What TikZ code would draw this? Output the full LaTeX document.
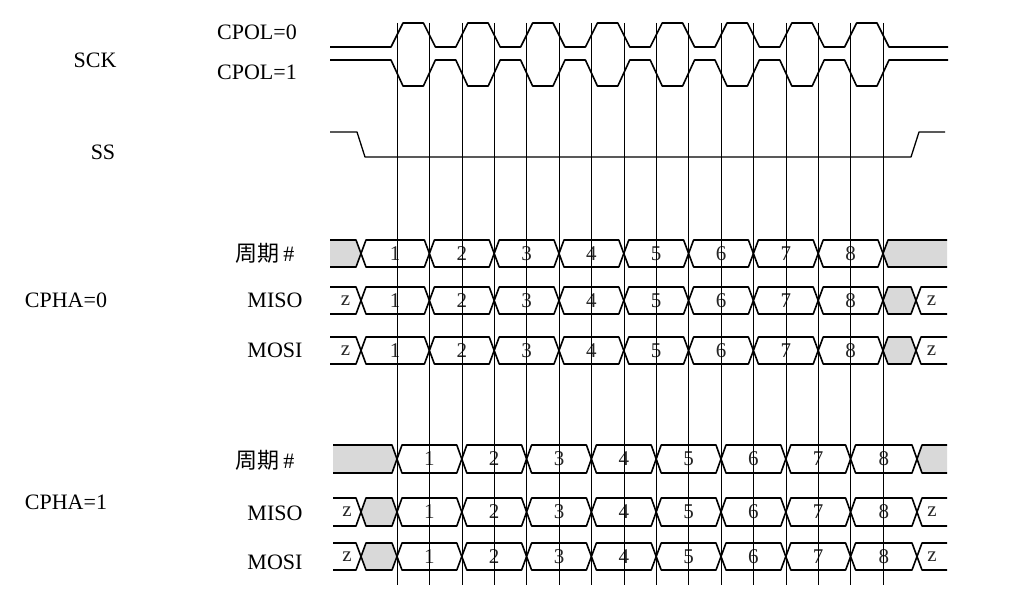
\documentclass[tikz,border=0pt]{standalone}
\usepackage{fontspec}
\setmainfont{Liberation Serif}
\newfontfamily\cjk{Noto Sans CJK SC}
\newcommand\busC[6]{%
 \fill[#5] (#1,{(#3+#4)/2}) -- (#1+5,#3) -- (#2-5,#3) -- (#2,{(#3+#4)/2}) -- (#2-5,#4) -- (#1+5,#4) -- cycle;
 \draw[sig] (#1,{(#3+#4)/2}) -- (#1+5,#3) -- (#2-5,#3) -- (#2,{(#3+#4)/2}) -- (#2-5,#4) -- (#1+5,#4) -- cycle;
 \node[lbl] at ({(#1+#2)/2},{(#3+#4)/2}) {#6};}
\newcommand\busL[6]{%
 \fill[#5] (#1,#3) -- (#2-5,#3) -- (#2,{(#3+#4)/2}) -- (#2-5,#4) -- (#1,#4) -- cycle;
 \draw[sig] (#1,#3) -- (#2-5,#3) -- (#2,{(#3+#4)/2}) -- (#2-5,#4) -- (#1,#4);
 \node[lbl] at ({(#1+#2)/2},{(#3+#4)/2}) {#6};}
\newcommand\busR[6]{%
 \fill[#5] (#2,#3) -- (#1+5,#3) -- (#1,{(#3+#4)/2}) -- (#1+5,#4) -- (#2,#4) -- cycle;
 \draw[sig] (#2,#3) -- (#1+5,#3) -- (#1,{(#3+#4)/2}) -- (#1+5,#4) -- (#2,#4);
 \node[lbl] at ({(#1+#2)/2},{(#3+#4)/2}) {#6};}
\begin{document}
\begin{tikzpicture}[x=1pt,y=-1pt,
 sig/.style={line width=1.6pt,line join=round},
 lbl/.style={font=\fontsize{21}{23}\selectfont,text=black!85},
 txt/.style={font=\fontsize{22}{24}\selectfont},
 grid/.style={line width=0.6pt}]
\useasboundingbox (0,0) rectangle (1027,604);
% labels
\node[txt] at (95,60) {SCK};
\node[txt] at (103,152) {SS};
\node[txt] at (257,32) {CPOL=0};
\node[txt] at (257,72) {CPOL=1};
\node[txt] at (66,300) {CPHA=0};
\node[txt] at (66,502) {CPHA=1};
\node[txt] at (265,253) {{\cjk 周期}\,\#};
\node[txt] at (275,300) {MISO};
\node[txt] at (275,350) {MOSI};
\node[txt] at (265,460) {{\cjk 周期}\,\#};
\node[txt] at (275,513) {MISO};
\node[txt] at (275,562) {MOSI};
% SCK
\draw[sig] (330,47) foreach \k in {0,...,7}{ -- ({397+64.8*\k-6},47) -- ({397+64.8*\k+6},23) -- ({429.4+64.8*\k-6},23) -- ({429.4+64.8*\k+6},47)} -- (948,47);
\draw[sig] (330,60) foreach \k in {0,...,7}{ -- ({397+64.8*\k-6},60) -- ({397+64.8*\k+6},86) -- ({429.4+64.8*\k-6},86) -- ({429.4+64.8*\k+6},60)} -- (948,60);
% SS
\draw[sig,line width=1.3pt] (330,132) -- (357,132) -- (365,157) -- (911,157) -- (919,132) -- (945,132);
% CPHA=0
\busL{330}{361}{240}{267}{gray!30}{}
\busC{361}{429.4}{240}{267}{white}{1}
\foreach \k/\n in {0/2,1/3,2/4,3/5,4/6,5/7,6/8}
  \busC{429.4+64.8*\k}{494.2+64.8*\k}{240}{267}{white}{\n};
\busR{883}{947}{240}{267}{gray!30}{}
\foreach \t/\b in {287/314,337/364}{
 \busL{330}{361}{\t}{\b}{white}{z}
 \busC{361}{429.4}{\t}{\b}{white}{1}
 \foreach \k/\n in {0/2,1/3,2/4,3/5,4/6,5/7,6/8}
   \busC{429.4+64.8*\k}{494.2+64.8*\k}{\t}{\b}{white}{\n};
 \busC{883}{916}{\t}{\b}{gray!30}{}
 \busR{916}{947}{\t}{\b}{white}{z}
}
% CPHA=1
\busL{333}{397}{445}{473}{gray!30}{}
\foreach \k/\n in {0/1,1/2,2/3,3/4,4/5,5/6,6/7}
  \busC{397+64.8*\k}{461.8+64.8*\k}{445}{473}{white}{\n};
\busC{850.6}{917}{445}{473}{white}{8}
\busR{917}{947}{445}{473}{gray!30}{}
\foreach \t/\b in {498/526,543/570}{
 \busL{333}{361}{\t}{\b}{white}{z}
 \busC{361}{397}{\t}{\b}{gray!30}{}
 \foreach \k/\n in {0/1,1/2,2/3,3/4,4/5,5/6,6/7}
   \busC{397+64.8*\k}{461.8+64.8*\k}{\t}{\b}{white}{\n};
 \busC{850.6}{917}{\t}{\b}{white}{8}
 \busR{917}{947}{\t}{\b}{white}{z}
}
% grid lines
\foreach \i in {0,...,15}
  \draw[grid] ({397+32.4*\i},23) -- ({397+32.4*\i},585);
\end{tikzpicture}
\end{document}
